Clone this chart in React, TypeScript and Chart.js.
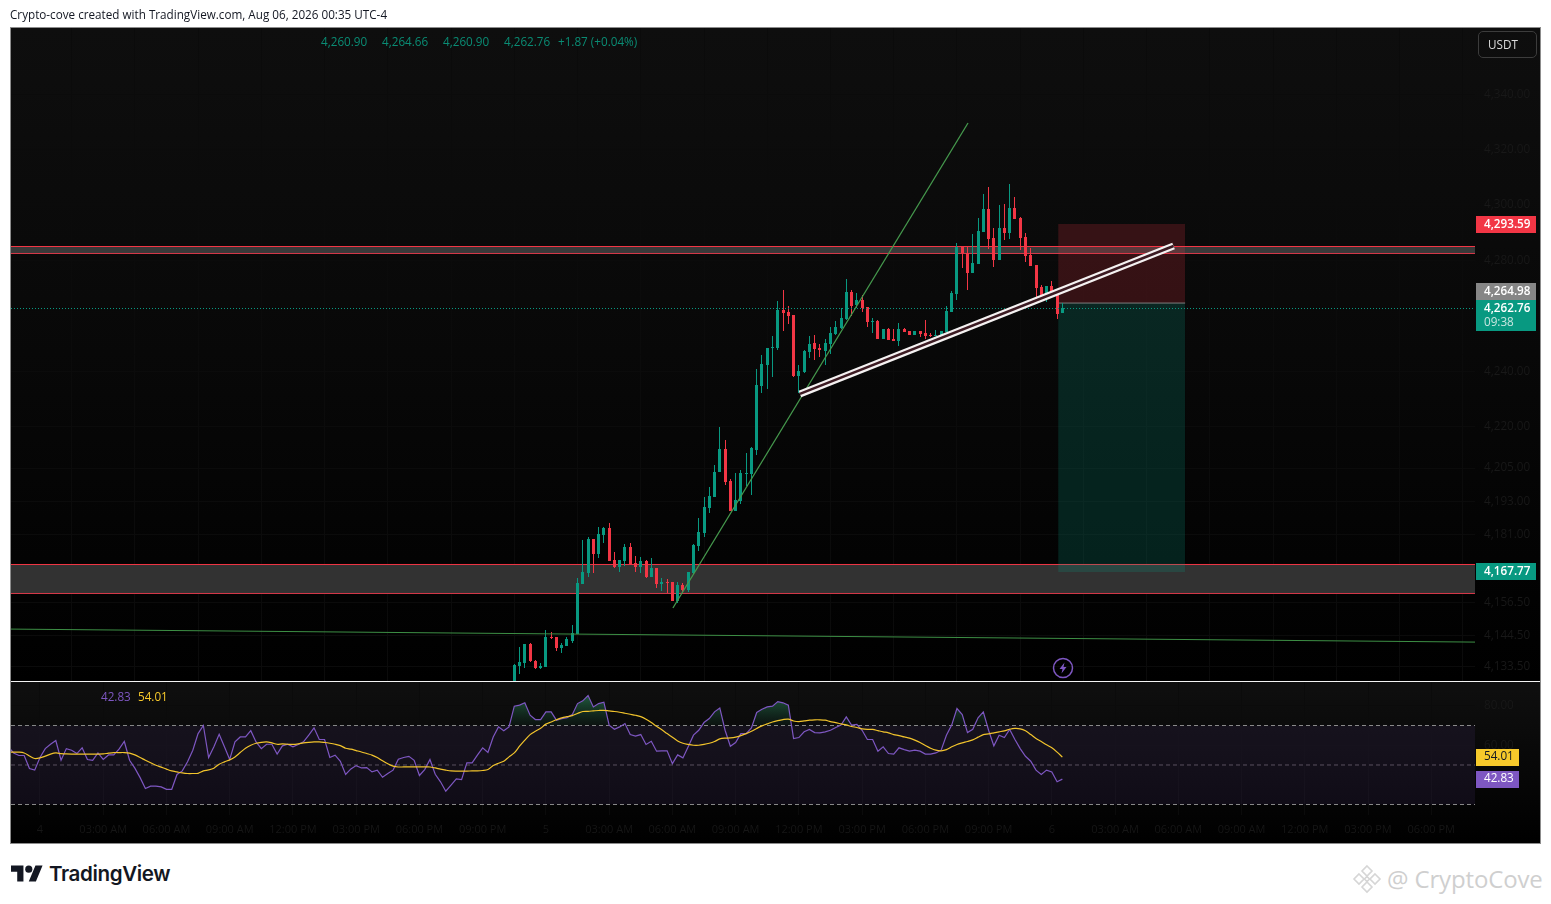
import React, { useEffect, useRef } from "react";
import { Chart, registerables } from "chart.js";

Chart.register(...registerables);

// ---------- Price pane data (15-minute bars, bar 0 is the first visible candle) ----------
const opens = [4127.4,4133.6,4134.7,4141.5,4135.4,4132.8,4133.2,4144.1,4144.1,4140.1,4140.8,4142.6,4145.1,4163.2,4167.1,4179.4,4174.0,4180.9,4183.4,4171.8,4169.3,4171.5,4176.5,4170.8,4169.3,4171.5,4165.7,4168.9,4163.2,4163.9,4163.9,4157.0,4162.8,4161.0,4167.1,4176.9,4181.6,4190.6,4194.6,4203.6,4211.9,4200.4,4189.5,4193.1,4202.9,4202.9,4211.6,4234.7,4242.2,4248.4,4248.4,4262.1,4261.4,4260.3,4238.3,4239.7,4246.9,4250.2,4248.4,4247.3,4249.8,4253.4,4255.6,4258.8,4268.6,4263.9,4265.7,4263.2,4257.8,4258.1,4251.6,4255.2,4251.6,4250.9,4255.2,4254.5,4253.1,4254.5,4253.8,4253.1,4252.7,4252.7,4254.1,4261.4,4267.9,4284.8,4282.7,4275.4,4278.7,4290.2,4298.6,4288.1,4280.1,4291.7,4289.9,4298.9,4295.3,4288.4,4281.9,4278.3,4270.4,4266.8,4270.8,4269.3,4260.9];
const highs = [4134.3,4140.4,4141.5,4141.9,4135.7,4134.7,4146.6,4145.9,4144.1,4141.9,4144.1,4148.4,4165.3,4179.1,4180.1,4179.4,4183.7,4183.7,4185.2,4174.7,4171.8,4177.6,4178.0,4173.3,4172.9,4171.8,4172.6,4168.9,4165.3,4165.0,4163.9,4163.9,4163.5,4167.5,4177.6,4187.0,4194.6,4198.2,4206.1,4219.9,4215.2,4201.1,4203.2,4204.3,4210.5,4212.6,4240.8,4245.8,4248.4,4252.7,4265.3,4269.3,4263.5,4260.3,4242.2,4247.7,4252.7,4253.1,4249.8,4251.6,4256.0,4258.1,4262.8,4273.3,4269.3,4268.2,4267.5,4263.2,4259.2,4258.5,4255.2,4255.6,4255.2,4257.4,4255.6,4254.5,4254.5,4254.5,4258.5,4253.8,4254.9,4254.5,4263.5,4268.9,4286.3,4285.2,4285.2,4289.5,4295.3,4304.0,4306.5,4291.7,4300.0,4300.4,4307.6,4302.9,4295.7,4289.9,4284.5,4278.3,4271.1,4270.8,4272.6,4269.7,4264.66];
const lows = [4126.7,4130.7,4132.8,4135.0,4132.5,4132.5,4133.2,4143.3,4139.0,4138.3,4140.8,4141.9,4145.1,4163.2,4165.7,4167.1,4172.6,4178.0,4171.5,4168.9,4167.5,4169.7,4170.0,4167.5,4167.1,4165.3,4165.7,4161.7,4160.6,4159.9,4157.0,4156.3,4160.3,4160.3,4166.8,4175.1,4180.1,4188.8,4194.6,4203.6,4198.9,4189.5,4189.5,4192.0,4198.6,4195.3,4209.8,4232.1,4233.6,4237.9,4247.7,4254.5,4257.0,4237.9,4232.1,4239.4,4244.8,4244.0,4245.1,4242.2,4246.2,4253.1,4255.2,4258.5,4259.9,4262.8,4261.4,4256.0,4253.8,4251.6,4251.6,4251.3,4250.9,4249.1,4254.1,4253.1,4253.1,4252.3,4251.6,4252.3,4252.7,4252.7,4254.1,4261.4,4265.7,4277.2,4269.3,4275.4,4278.7,4290.2,4284.1,4277.6,4280.1,4287.4,4287.7,4294.9,4283.8,4279.4,4278.0,4266.1,4266.1,4265.0,4267.1,4258.8,4260.9];
const closes = [4133.9,4135.0,4141.5,4135.4,4132.8,4133.6,4144.1,4143.7,4140.1,4141.2,4143.3,4145.5,4163.5,4167.5,4179.4,4174.0,4181.2,4183.4,4171.5,4169.3,4171.8,4176.5,4170.4,4169.3,4171.5,4165.7,4168.9,4163.2,4163.9,4163.5,4157.0,4162.8,4161.0,4167.5,4177.3,4181.9,4191.0,4194.9,4203.6,4211.9,4200.0,4189.5,4193.5,4203.2,4203.2,4212.3,4235.0,4242.6,4248.4,4248.7,4262.1,4261.0,4259.9,4238.3,4240.1,4247.3,4249.8,4248.0,4247.7,4250.2,4253.8,4256.0,4259.2,4268.6,4263.5,4265.7,4262.8,4257.8,4258.1,4251.6,4255.2,4251.3,4250.9,4255.2,4254.1,4253.1,4254.5,4253.4,4252.7,4252.7,4253.1,4254.5,4261.7,4268.2,4284.8,4282.7,4275.4,4279.1,4290.6,4298.6,4287.7,4280.1,4291.7,4289.9,4298.9,4294.9,4288.1,4281.6,4278.0,4270.0,4266.8,4270.8,4268.6,4260.6,4262.76];

const priceMin = 4128.159;
const priceMax = 4363.892;
const priceTicks = [4340, 4320, 4300, 4280, 4240, 4220, 4205, 4193, 4181, 4156.5, 4144.5, 4133.5];

const barMin = -95.5;
const barMax = 182.3;

// Drawing-tool levels
const upperZone = [4285.01, 4282.49];
const lowerZone = [4170.22, 4159.75];
const longLineBars = [-95.5, 182.3];
const longLinePrices = [4146.9, 4142.2];
const riseLineBars = [30.1, 86.1];
const riseLinePrices = [4154.5, 4329.6];
const channelBars = [54.2, 125.1];
const channelPrices = [4231.8, 4285.2];
const positionBars = [103.2, 127.3];
const stopLevel = 4293.1;
const entryLevel = 4264.6;
const targetLevel = 4167.5;
const lastPrice = 4262.63;

// Price-axis badges
const badgeTexts = ["4,293.59", "4,264.98", "4,262.76", "4,167.77"];
const badgeValues = [4293.59, 4264.98, 4262.76, 4167.77];
const countdown = "09:38";

// ---------- RSI pane data (starts at bar -96) ----------
const rsiFirstBar = -96;
const rsiValues = [59.2,56.1,54.8,54.8,48.2,47.4,53.8,58.3,60.5,62.4,52.4,58.3,57.5,55.8,58.7,52.8,52.4,56.1,52.8,55.1,55.1,58.0,61.9,52.4,48.4,43.6,38.1,39.3,39.3,38.9,37.7,37.7,45.2,47.0,51.6,57.5,65.9,70.0,53.8,59.2,65.6,59.2,52.8,61.7,64.2,64.2,67.4,61.7,58.3,60.5,60.5,55.5,59.7,60.5,59.2,60.4,61.7,65.1,68.8,62.9,62.9,53.8,55.0,51.9,45.2,48.0,49.7,48.5,48.7,46.5,47.4,43.8,45.7,47.4,52.9,53.8,54.4,52.4,44.7,47.7,52.8,45.3,41.5,36.7,39.8,43.0,42.6,51.1,51.1,55.0,58.7,56.3,64.2,69.3,67.3,69.3,
79.8,80.3,81.5,75.2,73.0,73.0,76.9,76.9,72.7,73.5,74.0,75.5,81.1,82.5,85.2,79.4,81.1,81.8,70.2,68.1,69.3,71.0,65.4,64.6,65.4,60.4,62.0,57.0,57.2,57.2,50.7,55.1,53.6,59.2,65.1,67.6,71.5,73.5,76.9,78.9,67.6,59.5,61.4,65.9,65.9,68.8,76.6,78.2,79.4,79.8,82.1,81.5,80.3,63.4,63.9,66.8,68.0,66.4,66.3,66.8,67.6,69.0,70.2,74.4,70.2,70.6,67.6,62.9,62.9,57.0,59.2,55.8,55.5,58.7,57.8,57.0,57.5,57.0,55.5,55.5,56.1,57.5,65.1,70.2,78.6,75.5,66.4,68.1,73.9,76.9,67.6,59.7,65.1,63.9,68.0,62.9,58.3,54.4,51.9,47.4,45.2,47.4,46.5,41.5,42.83];
const rsiMaValues = [56.6,56.5,56.5,56.1,54.6,53.3,53.6,54.5,55.5,56.1,55.8,55.6,55.5,55.5,55.5,55.5,55.5,55.5,55.6,56.0,56.3,56.3,56.3,56.0,55.1,53.8,52.4,51.1,49.9,48.9,47.9,47.0,46.5,46.0,45.7,45.7,45.8,47.0,47.5,48.4,50.4,51.6,52.6,54.1,56.3,58.5,60.0,61.0,61.5,61.7,61.2,60.5,60.7,60.5,60.4,60.7,61.2,61.5,61.7,61.7,61.4,61.0,60.5,59.8,58.5,58.0,57.3,56.6,55.8,55.0,53.8,52.1,50.6,49.4,49.0,49.0,49.0,49.0,49.0,49.0,49.0,48.5,47.9,47.4,47.0,46.9,46.9,46.9,47.0,47.0,47.2,47.7,49.7,50.9,51.9,54.1,
56.1,59.5,62.6,65.4,67.1,68.6,70.7,71.8,72.9,73.9,74.5,75.0,76.1,77.1,77.2,77.4,77.6,77.7,77.4,77.1,76.7,76.2,75.7,75.2,74.5,73.2,71.5,69.6,67.8,65.9,64.1,62.2,61.0,60.4,60.0,60.0,60.4,61.0,61.9,63.2,63.6,63.7,64.1,64.9,65.9,67.1,68.5,69.8,70.8,71.8,72.5,73.0,73.2,72.3,72.0,72.3,72.7,72.9,72.9,72.7,72.0,71.5,70.8,70.3,69.5,69.0,68.3,68.0,68.0,67.4,66.8,66.3,65.4,64.9,64.2,63.6,62.6,61.4,59.9,58.5,57.5,57.2,57.8,59.2,60.4,61.2,61.9,62.7,64.1,65.4,65.8,66.3,66.8,67.3,68.1,68.5,68.3,67.3,65.4,63.4,61.9,60.2,58.7,56.5,54.01];
const rsiMin = 24.68;
const rsiMax = 92.03;
const rsiUpper = 70;
const rsiMiddle = 50;
const rsiLower = 30;
const rsiTicks = [80, 60];
const rsiBadgeValues = [54.01, 42.83];
const rsiBadgeTexts = ["54.01", "42.83"];

// Time axis
const timeTickBars = [-90,-78,-66,-54,-42,-30,-18,-6,6,18,30,42,54,66,78,90,102,114,126,138,150,162,174];
const timeTickLabels = ["4","03:00 AM","06:00 AM","09:00 AM","12:00 PM","03:00 PM","06:00 PM","09:00 PM","5","03:00 AM","06:00 AM","09:00 AM","12:00 PM","03:00 PM","06:00 PM","09:00 PM","6","03:00 AM","06:00 AM","09:00 AM","12:00 PM","03:00 PM","06:00 PM"];

const UP = "#089981";
const DOWN = "#F23645";
const FONT = "'Open Sans', sans-serif";
const AXIS_TEXT = "#181818";
const GRID = "#0b0b0b";

const hLine = (y: number, color: string, order: number, extra: any = {}) => ({
  type: "line",
  data: [{ x: barMin, y }, { x: barMax, y }],
  borderColor: color,
  borderWidth: 1,
  pointRadius: 0,
  order,
  ...extra,
});

// Snap candles to whole pixels the way the original renderer does.
const snapBars = {
  id: "snapBars",
  afterDatasetsUpdate(chart: any) {
    chart.data.datasets.forEach((ds: any, i: number) => {
      if (ds.type !== "bar") return;
      const xs = chart.scales.x;
      chart.getDatasetMeta(i).data.forEach((el: any, k: number) => {
        el.x = Math.round(xs.getPixelForValue(ds.data[k].x) - 0.5) + 0.5;
        el.width = ds.barThickness;
        const top = Math.round(Math.min(el.y, el.base));
        let bottom = Math.round(Math.max(el.y, el.base));
        if (bottom <= top) bottom = top + 1;
        el.y = top;
        el.base = bottom;
      });
    });
  },
};

const priceFrame = {
  id: "priceFrame",
  beforeDraw(chart: any) {
    const c = chart.ctx;
    const g = c.createLinearGradient(0, 27, 0, 681);
    g.addColorStop(0, "#0e0e0e");
    g.addColorStop(0.5, "#080808");
    g.addColorStop(1, "#000000");
    c.fillStyle = g;
    c.fillRect(10, 27, 1531, 654);
    c.fillStyle = "#8c8c8c";
    c.fillRect(10, 27, 1531, 1);
    c.fillRect(10, 27, 1, 654);
    c.fillRect(1540, 27, 1, 654);
  },
  afterDraw(chart: any) {
    const c = chart.ctx;
    const y = chart.scales.y;
    const box = (cy: number, h: number, bg: string) => {
      c.fillStyle = bg;
      c.fillRect(1476, Math.round(cy - 8.5), 60, h);
    };
    const text = (t: string, cy: number, color: string, weight = "600") => {
      c.font = `${weight} 11.7px ${FONT}`;
      c.fillStyle = color;
      c.textAlign = "left";
      c.textBaseline = "middle";
      c.fillText(t, 1484, cy);
    };
    const cys = [y.getPixelForValue(badgeValues[0]) + 1.8, y.getPixelForValue(badgeValues[1]) - 10.5, y.getPixelForValue(badgeValues[2]), y.getPixelForValue(badgeValues[3])];
    box(cys[0], 17, DOWN);
    text(badgeTexts[0], cys[0], "#ffffff");
    box(cys[1], 17, "#868686");
    text(badgeTexts[1], cys[1], "#ffffff");
    box(cys[2], 31, UP);
    text(badgeTexts[2], cys[2] + 0.5, "#ffffff");
    text(countdown, cys[2] + 14.5, "#c9e6e0", "400");
    box(cys[3], 17, UP);
    text(badgeTexts[3], cys[3], "#ffffff");
  },
};

const rsiFrame = {
  id: "rsiFrame",
  beforeDraw(chart: any) {
    const c = chart.ctx;
    const g = c.createLinearGradient(0, 1, 0, 162);
    g.addColorStop(0, "#0f0f0f");
    g.addColorStop(0.75, "#040404");
    g.addColorStop(1, "#000000");
    c.fillStyle = g;
    c.fillRect(10, 0, 1531, 163);
    c.fillStyle = "#f4f4f4";
    c.fillRect(10, 0, 1531, 1);
    c.fillStyle = "#8c8c8c";
    c.fillRect(10, 0, 1, 163);
    c.fillRect(1540, 0, 1, 163);
    c.fillRect(10, 162, 1531, 1);
  },
  afterDraw(chart: any) {
    const c = chart.ctx;
    const y = chart.scales.y;
    const colors = ["#F7C92B", "#7E57C2"];
    const inks = ["#131722", "#ffffff"];
    rsiBadgeValues.forEach((v, i) => {
      const cy = y.getPixelForValue(v);
      c.fillStyle = colors[i];
      c.fillRect(1476, Math.round(cy - 8.5), 43, 17);
      c.font = `500 11.7px ${FONT}`;
      c.fillStyle = inks[i];
      c.textAlign = "left";
      c.textBaseline = "middle";
      c.fillText(rsiBadgeTexts[i], 1484, cy);
    });
  },
};

const clearPad = (s: any) => {
  s.paddingTop = 0;
  s.paddingBottom = 0;
  s.paddingLeft = 0;
  s.paddingRight = 0;
};

const makePriceChart = (canvas: HTMLCanvasElement) => {
  const bars = opens.map((_, i) => i);
  const colors = opens.map((o, i) => (closes[i] >= o ? UP : DOWN));
  return new Chart(canvas, {
    type: "line",
    plugins: [snapBars, priceFrame],
    data: {
      datasets: [
        hLine(upperZone[0], DOWN, 20, { fill: { value: upperZone[1] }, backgroundColor: "#393939" }),
        hLine(upperZone[1], "#d8394a", 19),
        hLine(lowerZone[0], DOWN, 18, { fill: { value: lowerZone[1] }, backgroundColor: "#323232" }),
        hLine(lowerZone[1], "#d8394a", 17),
        {
          type: "line",
          data: [{ x: positionBars[0], y: stopLevel }, { x: positionBars[1], y: stopLevel }],
          borderWidth: 0,
          pointRadius: 0,
          fill: { value: entryLevel },
          backgroundColor: "rgba(242,54,69,0.19)",
          order: 16,
        },
        {
          type: "line",
          data: [{ x: positionBars[0], y: entryLevel }, { x: positionBars[1], y: entryLevel }],
          borderWidth: 1,
          borderColor: "#7d7d7d",
          pointRadius: 0,
          fill: { value: targetLevel },
          backgroundColor: "rgba(8,153,129,0.21)",
          order: 15,
        },
        {
          type: "bar",
          data: bars.map((b, i) => ({ x: b, y: [lows[i], highs[i]] })),
          backgroundColor: colors,
          barThickness: 1,
          inflateAmount: 0,
          grouped: false,
          order: 8,
        },
        {
          type: "bar",
          data: bars.map((b, i) => ({ x: b, y: [opens[i], closes[i]] })),
          backgroundColor: colors,
          barThickness: 3,
          inflateAmount: 0,
          grouped: false,
          order: 7,
        },
        hLine(lastPrice, UP, 6, { borderDash: [1, 2] }),
        {
          type: "line",
          data: longLineBars.map((x, i) => ({ x, y: longLinePrices[i] })),
          borderColor: "#3d8f45",
          borderWidth: 1,
          pointRadius: 0,
          order: 5,
        },
        {
          type: "line",
          data: riseLineBars.map((x, i) => ({ x, y: riseLinePrices[i] })),
          borderColor: "#45994d",
          borderWidth: 1.3,
          pointRadius: 0,
          order: 4,
        },
        {
          type: "line",
          data: channelBars.map((x, i) => ({ x, y: channelPrices[i] })),
          borderColor: "#f4f1f1",
          borderWidth: 7,
          pointRadius: 0,
          order: 3,
        },
        {
          type: "line",
          data: channelBars.map((x, i) => ({ x, y: channelPrices[i] })),
          borderColor: "#3c1a22",
          borderWidth: 2.6,
          pointRadius: 0,
          order: 2,
        },
      ] as any,
    },
    options: {
      animation: false,
      responsive: false,
      devicePixelRatio: 1,
      layout: { padding: { left: 11, right: 11, top: 28, bottom: 0 } },
      plugins: { legend: { display: false }, tooltip: { enabled: false } },
      scales: {
        x: {
          type: "linear",
          min: barMin,
          max: barMax,
          bounds: "data",
          offset: false,
          border: { display: false },
          grid: { color: GRID, drawTicks: false },
          ticks: { display: false },
          afterBuildTicks: (s: any) => { s.ticks = timeTickBars.map((value) => ({ value })); },
          afterFit: (s: any) => { s.height = 0; clearPad(s); },
        },
        y: {
          type: "linear",
          position: "right",
          min: priceMin,
          max: priceMax,
          bounds: "data",
          border: { display: false },
          grid: { color: GRID, drawTicks: false },
          ticks: {
            padding: 9,
            color: AXIS_TEXT,
            font: { family: FONT, size: 11.7 },
            autoSkip: false,
            callback: (v: any) => Number(v).toLocaleString("en-US", { minimumFractionDigits: 2, maximumFractionDigits: 2 }),
          },
          afterBuildTicks: (s: any) => { s.ticks = priceTicks.map((value) => ({ value })); },
          afterFit: (s: any) => { s.width = 65; clearPad(s); },
        },
      },
    } as any,
  });
};

const makeRsiChart = (canvas: HTMLCanvasElement) => {
  const ctx = canvas.getContext("2d")!;
  const rsiX = rsiValues.map((_, i) => rsiFirstBar + i);
  const glow = ctx.createLinearGradient(0, 14, 0, 44);
  glow.addColorStop(0, "rgba(40,120,80,0.75)");
  glow.addColorStop(1, "rgba(20,70,50,0.15)");
  return new Chart(canvas, {
    type: "line",
    plugins: [rsiFrame],
    data: {
      datasets: [
        hLine(rsiUpper, "#8a8a8a", 10, {
          fill: { value: rsiLower },
          backgroundColor: "rgba(126,87,194,0.10)",
          borderDash: [4, 3],
        }),
        hLine(rsiMiddle, "#5a5060", 9, { borderDash: [4, 3] }),
        hLine(rsiLower, "#8a8a8a", 8, { borderDash: [4, 3] }),
        {
          type: "line",
          data: rsiX.map((x, i) => ({ x, y: rsiValues[i] })),
          borderColor: "#7E57C2",
          borderWidth: 1.2,
          pointRadius: 0,
          tension: 0,
          fill: { target: { value: rsiUpper }, above: glow, below: "rgba(0,0,0,0)" },
          order: 3,
        },
        {
          type: "line",
          data: rsiX.map((x, i) => ({ x, y: rsiMaValues[i] })),
          borderColor: "#F2C42C",
          borderWidth: 1.2,
          pointRadius: 0,
          tension: 0.3,
          order: 2,
        },
      ] as any,
    },
    options: {
      animation: false,
      responsive: false,
      devicePixelRatio: 1,
      layout: { padding: { left: 11, right: 11, top: 1, bottom: 1 } },
      plugins: { legend: { display: false }, tooltip: { enabled: false } },
      scales: {
        x: {
          type: "linear",
          min: barMin,
          max: barMax,
          bounds: "data",
          offset: false,
          border: { display: false },
          grid: { color: GRID, drawTicks: false },
          ticks: {
            padding: 8,
            color: "#161616",
            font: { family: FONT, size: 11 },
            autoSkip: false,
            maxRotation: 0,
            callback: (v: any) => {
              const i = timeTickBars.indexOf(Number(v));
              return i >= 0 ? timeTickLabels[i] : "";
            },
          },
          afterBuildTicks: (s: any) => { s.ticks = timeTickBars.map((value) => ({ value })); },
          afterFit: (s: any) => { s.height = 28; clearPad(s); },
        },
        y: {
          type: "linear",
          position: "right",
          min: rsiMin,
          max: rsiMax,
          bounds: "data",
          border: { display: false },
          grid: { color: GRID, drawTicks: false },
          ticks: {
            padding: 9,
            color: AXIS_TEXT,
            font: { family: FONT, size: 11.7 },
            autoSkip: false,
            callback: (v: any) => Number(v).toFixed(2),
          },
          afterBuildTicks: (s: any) => { s.ticks = rsiTicks.map((value) => ({ value })); },
          afterFit: (s: any) => { s.width = 65; clearPad(s); },
        },
      },
    } as any,
  });
};

const abs = (left: number, top: number, extra: React.CSSProperties = {}): React.CSSProperties => ({
  position: "absolute",
  left,
  top,
  lineHeight: 1,
  whiteSpace: "nowrap",
  fontFamily: FONT,
  ...extra,
});

const ohlcTexts = ["4,260.90", "4,264.66", "4,260.90", "4,262.76", "+1.87 (+0.04%)"];
const ohlcLefts = [321, 382, 443, 504, 558];

export default function App() {
  const priceRef = useRef<HTMLCanvasElement>(null);
  const rsiRef = useRef<HTMLCanvasElement>(null);
  useEffect(() => {
    const a = makePriceChart(priceRef.current!);
    const b = makeRsiChart(rsiRef.current!);
    return () => {
      a.destroy();
      b.destroy();
    };
  }, []);
  return (
    <div style={{ position: "absolute", left: 0, top: 0, width: 1551, height: 904, background: "#fff", overflow: "hidden" }}>
      <canvas ref={priceRef} width={1551} height={681} style={{ position: "absolute", left: 0, top: 0, width: 1551, height: 681 }} />
      <canvas ref={rsiRef} width={1551} height={163} style={{ position: "absolute", left: 0, top: 681, width: 1551, height: 163 }} />

      <div style={abs(10, 9, { fontSize: 11.7, color: "#131722" })}>Crypto-cove created with TradingView.com, Aug 06, 2026 00:35 UTC-4</div>
      {ohlcTexts.map((t, i) => (
        <div key={i} style={abs(ohlcLefts[i], 36, { fontSize: 11.7, color: "#0a8c74" })}>{t}</div>
      ))}
      <div style={abs(1478, 31, { width: 48, paddingLeft: 9, height: 25, border: "1.5px solid #3c3c3c", borderRadius: 5, color: "#dddddd", fontSize: 11.7, textAlign: "left", lineHeight: "25px", fontWeight: 500 })}>USDT</div>

      <div style={abs(101, 691, { fontSize: 11.7, color: "#7E57C2" })}>42.83</div>
      <div style={abs(138, 691, { fontSize: 11.7, color: "#F7C92B", fontWeight: 500 })}>54.01</div>

      <svg style={{ position: "absolute", left: 1052, top: 657 }} width={22} height={22} viewBox="0 0 22 22">
        <circle cx={11} cy={11} r={9.5} fill="none" stroke="#7E57C2" strokeWidth={1.5} />
        <path d="M12.5 5.5 L7.5 12 L10.5 12 L9.5 16.5 L14.5 10 L11.5 10 Z" fill="#7E57C2" />
      </svg>

      <svg style={{ position: "absolute", left: 11, top: 862 }} width={32} height={25} viewBox="0 0 36 28">
        <path d="M14 22H7V11H0V4h14v18zM28 22h-8l7.5-18h8L28 22z" fill="#131722" />
        <circle cx={20} cy={8} r={4} fill="#131722" />
      </svg>
      <div style={abs(49, 864, { fontFamily: "Inter, sans-serif", fontSize: 20.6, fontWeight: 600, color: "#131722", letterSpacing: -0.4 })}>TradingView</div>

      <svg style={{ position: "absolute", left: 1352, top: 864 }} width={30} height={30} viewBox="0 0 30 30" fill="none" stroke="#d6d6d6" strokeWidth={1.6}>
        <path d="M15 2 L20 7 L15 12 L10 7 Z" />
        <path d="M7 10 L12 15 L7 20 L2 15 Z" />
        <path d="M23 10 L28 15 L23 20 L18 15 Z" />
        <path d="M15 18 L20 23 L15 28 L10 23 Z" />
        <path d="M15 12.5 L17.5 15 L15 17.5 L12.5 15 Z" />
      </svg>
      <div style={abs(1387, 867, { fontSize: 24, color: "#cfcfcf", letterSpacing: -0.15 })}>@ CryptoCove</div>
    </div>
  );
}
